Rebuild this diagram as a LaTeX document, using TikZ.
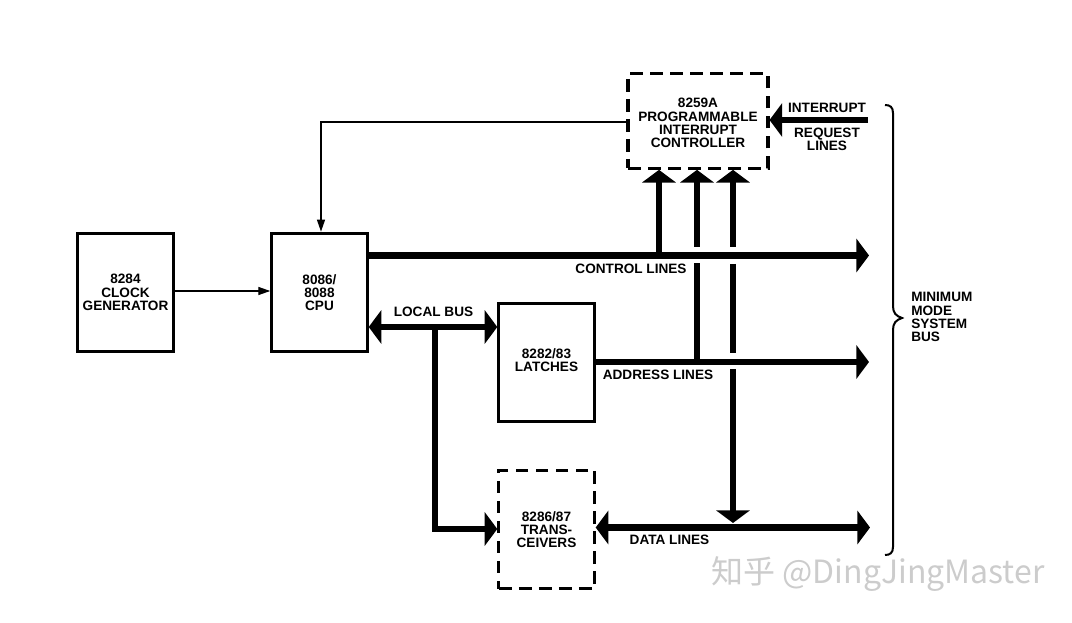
\documentclass[tikz,border=0pt]{standalone}
\usepackage{fontspec}
\setmainfont{Liberation Sans}
\newfontfamily\cjkfont{Noto Sans CJK SC}
\usetikzlibrary{arrows.meta}

\tikzset{
  blockbox/.style={draw, line width=2.3pt, minimum width=71.5pt, minimum height=89pt, inner sep=0pt, align=center, font=\fontsize{10.2}{9.9}\selectfont\bfseries},
  dashbox/.style={blockbox, dash pattern=on 9.5pt off 5.5pt},
  buslabel/.style={inner sep=0pt, align=center, font=\fontsize{10.2}{9.9}\selectfont\bfseries},
  busline/.style={line width=5.2pt},
  thinbus/.style={line width=4.6pt},
  bushead/.style={-{Triangle[length=9.5pt,width=25pt]}},
  twohead/.style={{Triangle[length=9.5pt,width=25pt]}-{Triangle[length=9.5pt,width=25pt]}},
  signal/.style={line width=1pt, -{Triangle[length=9pt,width=6pt]}}
}

\begin{document}
\begin{tikzpicture}[x=.75pt,y=-.75pt]

  \useasboundingbox (0,0) rectangle (1072,623);

  % blocks
  \node[blockbox] (clock) at (125.5,292.5) {8284\\CLOCK\\GENERATOR};
  \node[blockbox] (cpu) at (319.5,292.5) {8086/\\8088\\CPU};
  \node[blockbox] (latches) at (546.5,362.5) {};
  \node[buslabel] (latchtext) at (546.5,360.5) {8282/83\\LATCHES};
  \node[dashbox] (trans) at (546.5,529.5) {8286/87\\TRANS-\\CEIVERS};
  \node[dashbox, minimum width=105pt, minimum height=71pt] (pic) at (698,121) {};
  \node[buslabel] (pictext) at (698,123) {8259A\\PROGRAMMABLE\\INTERRUPT\\CONTROLLER};

  % free ends
  \coordinate (ctrlend) at (869,255.5);
  \coordinate (addrend) at (869,362);
  \coordinate (dataend) at (870,527.5);
  \coordinate (intend) at (868,120);
  \coordinate (corner) at (321,122);
  \coordinate (busfork) at (435,327);
  \coordinate (ctrlup) at (659,255.5);
  \coordinate (addrup) at (697,362);
  \coordinate (addrgap) at (697,263.5);
  \coordinate (addrtop) at (697,247);
  \coordinate (dataup) at (733,247);
  \coordinate (datamida) at (733,264);
  \coordinate (datamidb) at (733,353.5);
  \coordinate (datalow) at (733,369.5);
  \coordinate (datatip) at (733,523);

  % thin signals
  \draw[signal] (clock.east |- 0,291) -- (cpu.west |- 0,291);
  \draw[signal] (pic.west |- corner) -- (corner) -- (cpu.north -| corner);

  % main lines
  \draw[thinbus, bushead] (cpu.east |- ctrlend) -- (ctrlend);
  \draw[thinbus, bushead] (latches.east |- addrend) -- (addrend);
  \draw[thinbus, twohead] (trans.east |- dataend) -- (dataend);
  \draw[busline, bushead] (intend) -- (pic.east |- intend);
  \draw[busline, twohead] (cpu.east |- busfork) -- (latches.west |- busfork);
  \draw[busline, bushead] (busfork) |- (trans.west |- 0,529);

  % risers
  \draw[busline, bushead] (ctrlup) -- (pic.south -| ctrlup);
  \draw[busline] (addrup) -- (addrgap);
  \draw[busline, bushead] (addrtop) -- (pic.south -| addrtop);
  \draw[busline, bushead] (dataup) -- (pic.south -| dataup);
  \draw[busline] (datamida) -- (datamidb);
  \draw[busline, bushead] (datalow) -- (datatip);

  % brace
  \draw[line width=1.5pt] (885,105) .. controls (890,105) and (893,107) .. (893,113) -- (893,306) .. controls (893,313) and (896,316) .. (902,318) .. controls (896,320) and (893,323) .. (893,330) -- (893,547) .. controls (893,553) and (890,555) .. (885,555);

  % labels
  \node[buslabel] (intlabel) at (827,108) {INTERRUPT};
  \node[buslabel] (reqlabel) at (827,139.5) {REQUEST\\LINES};
  \node[buslabel] (ctrllabel) at (631,269) {CONTROL LINES};
  \node[buslabel] (addrlabel) at (658,375) {ADDRESS LINES};
  \node[buslabel] (buslabel) at (433.5,312) {LOCAL BUS};
  \node[buslabel] (datalabel) at (669.5,540) {DATA LINES};
  \node[buslabel, align=left, anchor=west] (syslabel) at (911,317) {MINIMUM\\MODE\\SYSTEM\\BUS};

  % watermark
  \node[inner sep=0pt, anchor=west, text=black!20, font=\cjkfont\fontsize{24}{24}\selectfont] (mark) at (711,574) {知乎 @DingJingMaster};

\end{tikzpicture}
\end{document}
